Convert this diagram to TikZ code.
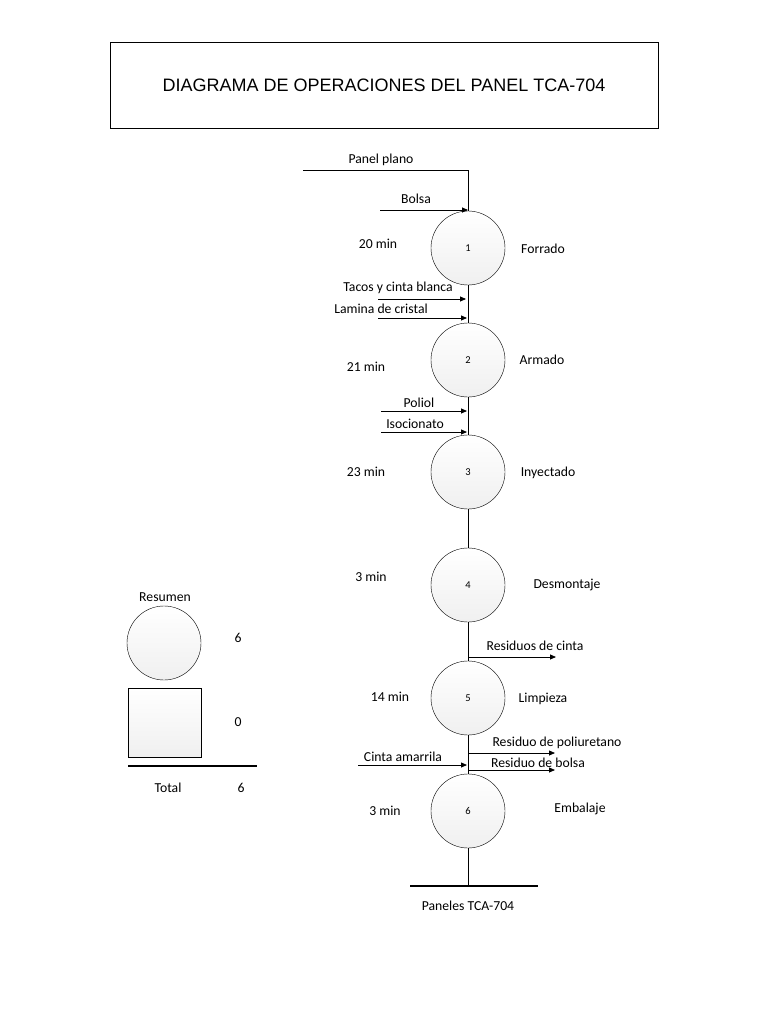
\documentclass[tikz,border=0pt]{standalone}
\usepackage{fontspec}
\setmainfont{Carlito}
\newfontfamily\titlefont{Liberation Sans}
\usetikzlibrary{arrows.meta}
\begin{document}
\begin{tikzpicture}[x=1pt,y=-1pt,
  op/.style={circle,draw,minimum size=74pt,inner sep=0pt,top color=white,bottom color=black!6,font=\fontsize{10.5}{12}\selectfont},
  lbl/.style={font=\fontsize{13.7}{16}\selectfont,inner sep=1pt},
  flow/.style={line width=0.8pt},
  inarr/.style={line width=0.8pt,-{Triangle[length=6pt,width=5pt]}}]
\useasboundingbox (0,0) rectangle (768,1024);
\node[draw,minimum width=548pt,minimum height=86pt,font=\titlefont\fontsize{18}{21}\selectfont] (title) at (384,85) {DIAGRAMA DE OPERACIONES DEL PANEL TCA-704};
\coordinate (start) at (303,170);
\coordinate (top) at (468,170);
\node[op] (o1) at (468,248) {1};
\node[op] (o2) at (468,360) {2};
\node[op] (o3) at (468,472) {3};
\node[op] (o4) at (468,585) {4};
\node[op] (o5) at (468,698) {5};
\node[op] (o6) at (468,811) {6};
\coordinate (end) at (468,886);
\coordinate (endL) at (410,886);
\coordinate (endR) at (538,886);
\draw[flow] (start) -- (top) -- (o1) -- (o2) -- (o3) -- (o4) -- (o5) -- (o6) -- (end);
\draw[line width=1.2pt] (endL) -- (endR);
\node[lbl] (pp) at (381,160) {Panel plano};
\node[lbl] (pt) at (468,906) {Paneles TCA-704};
% inputs
\coordinate (b0) at (380,210); \coordinate (b1) at (468,210);
\draw[inarr] (b0) -- (b1); \node[lbl] at (416,199) {Bolsa};
\coordinate (t0) at (378,299); \coordinate (t1) at (466,299);
\draw[inarr] (t0) -- (t1); \node[lbl] at (398,288) {Tacos y cinta blanca};
\coordinate (l0) at (378,318); \coordinate (l1) at (467,318);
\draw[inarr] (l0) -- (l1); \node[lbl] at (381,309) {Lamina de cristal};
\coordinate (p0) at (381,411); \coordinate (p1) at (467,411);
\draw[inarr] (p0) -- (p1); \node[lbl] at (419,403) {Poliol};
\coordinate (i0) at (381,432); \coordinate (i1) at (467,432);
\draw[inarr] (i0) -- (i1); \node[lbl] at (415,424) {Isocionato};
\coordinate (c0) at (358,765); \coordinate (c1) at (467,765);
\draw[inarr] (c0) -- (c1); \node[lbl] at (403,757) {Cinta amarrila};
% outputs
\coordinate (r0) at (468,657); \coordinate (r1) at (556,657);
\draw[inarr] (r0) -- (r1); \node[lbl] at (535,646) {Residuos de cinta};
\coordinate (u0) at (468,753); \coordinate (u1) at (555,753);
\draw[inarr] (u0) -- (u1); \node[lbl] at (557,743) {Residuo de poliuretano};
\coordinate (v0) at (468,770); \coordinate (v1) at (555,770);
\draw[inarr] (v0) -- (v1); \node[lbl] at (538,763) {Residuo de bolsa};
% times and names
\node[lbl] at (378,244) {20 min}; \node[lbl] at (543,249) {Forrado};
\node[lbl] at (366,367) {21 min}; \node[lbl] at (542,360) {Armado};
\node[lbl] at (366,472) {23 min}; \node[lbl] at (548,473) {Inyectado};
\node[lbl] at (371,577) {3 min};  \node[lbl] at (567,585) {Desmontaje};
\node[lbl] at (390,697) {14 min}; \node[lbl] at (543,699) {Limpieza};
\node[lbl] at (385,811) {3 min};  \node[lbl] at (580,809) {Embalaje};
% summary
\node[lbl] (res) at (165,597) {Resumen};
\node[op] (sc) at (164,643) {};
\node[lbl] at (238,638) {6};
\node[draw,minimum width=73pt,minimum height=69pt,inner sep=0pt,top color=white,bottom color=black!6] (sq) at (164.5,722.5) {};
\node[lbl] at (238,722) {0};
\coordinate (tl0) at (128,766); \coordinate (tl1) at (257,766);
\draw[line width=1.2pt] (tl0) -- (tl1);
\node[lbl] at (168,788) {Total};
\node[lbl] at (241,788) {6};
\end{tikzpicture}
\end{document}
